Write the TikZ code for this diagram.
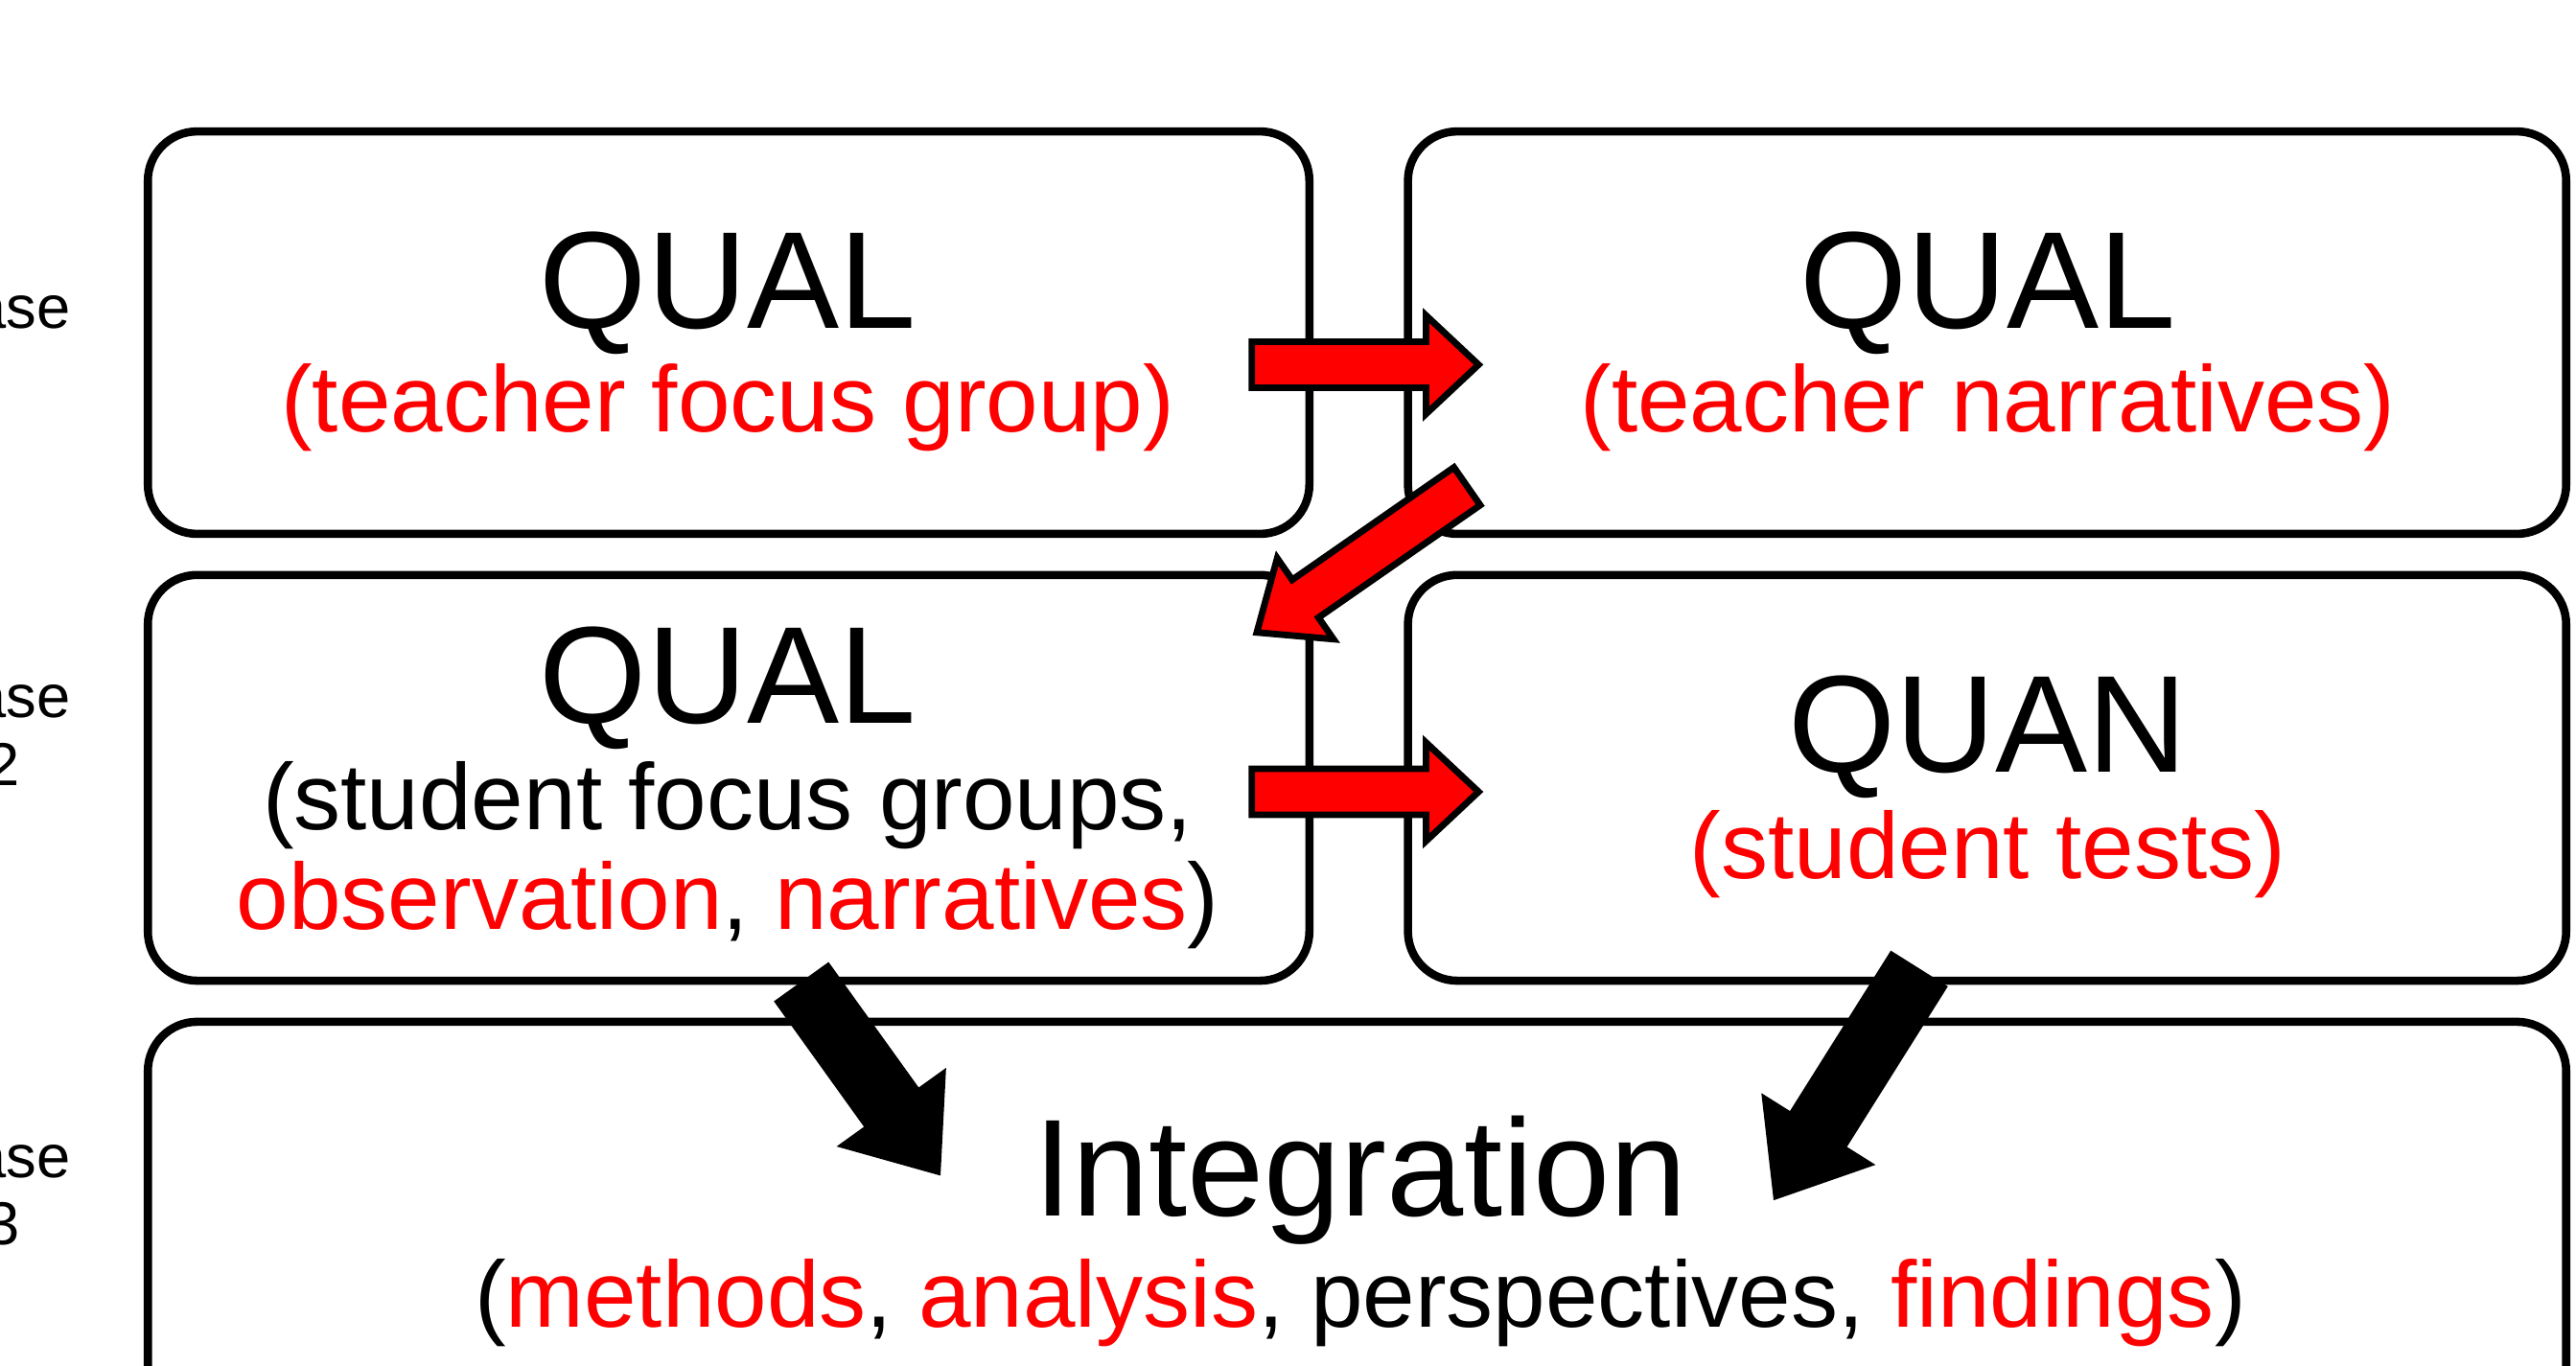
\documentclass[tikz,border=0pt]{standalone}
\usepackage{fontspec}
\setmainfont{Liberation Sans}
\usetikzlibrary{calc}
\newcommand\blockarr[6]{%
 \coordinate (hb) at ($(#2)!#5!(#1)$);
 \filldraw[#6] ($(#1)!#3!90:(#2)$) -- ($(hb)!#3!-90:(#1)$) -- ($(hb)!#4!-90:(#1)$) -- (#2) -- ($(hb)!#4!90:(#1)$) -- ($(hb)!#3!90:(#1)$) -- ($(#1)!#3!-90:(#2)$) -- cycle;}
\newlength\px \setlength\px{0.017136cm}
\tikzset{
 box/.style={draw=black, line width=5\px, rounded corners=30\px},
 big/.style={anchor=base, font=\fontsize{41}{48}\selectfont},
 sub/.style={anchor=base, font=\fontsize{27.9}{33}\selectfont},
 ph/.style={anchor=base east, font=\fontsize{18}{21}\selectfont},
 phn/.style={anchor=base, font=\fontsize{18}{21}\selectfont},
 redarr/.style={fill=red, draw=black, line width=4\px, line join=miter},
 blkarr/.style={fill=black, draw=black, line width=1\px},
}
\begin{document}
\begin{tikzpicture}[x=0.017136cm,y=-0.017136cm]
\clip (0,0) rectangle (1568,831);
\useasboundingbox (0,0) rectangle (1568,831);
\fill[white] (0,0) rectangle (1568,831);
% boxes
\draw[box] (90,80) rectangle (797,325);
\draw[box] (857,80) rectangle (1562,325);
\draw[box] (90,350) rectangle (797,597);
\draw[box] (857,350) rectangle (1562,597);
\draw[box] (90,622) rectangle (1562,900);
\coordinate (A) at (443,200); \coordinate (B) at (1210,200);
\coordinate (C) at (443,440); \coordinate (D) at (1210,470);
\coordinate (E) at (828,740);
% texts
\node[big] (tA) at (A) {QUAL};
\node[sub,text=red] (sA) at (443,263) {(teacher focus group)};
\node[big] (tB) at (B) {QUAL};
\node[sub,text=red] (sB) at (1210,263) {(teacher narratives)};
\node[big] (tC) at (C) {QUAL};
\node[sub] (sC1) at (443,505) {(student focus groups,};
\node[sub] (sC2) at (443,566) {\textcolor{red}{observation}, \textcolor{red}{narratives})};
\node[big] (tD) at (D) {QUAN};
\node[sub,text=red] (sD) at (1210,535) {(student tests)};
\node[big] (tE) at (E) {Integration};
\node[sub] (sE) at (828,808) {(\textcolor{red}{methods}, \textcolor{red}{analysis}, perspectives, \textcolor{red}{findings})};
% phase labels
\node[ph] (p1) at (50,200) {Phase};
\node[ph] (p2) at (50,437) {Phase};
\node[phn] (p2n) at (2,478) {2};
\node[ph] (p3) at (50,717) {Phase};
\node[phn] (p3n) at (2,758) {3};
% arrows
\coordinate (a1s) at (762,222); \coordinate (a1e) at (900,222);
\coordinate (a2s) at (893,296); \coordinate (a2e) at (765,385);
\coordinate (a3s) at (762,482); \coordinate (a3e) at (900,482);
\coordinate (a4s) at (488,598); \coordinate (a4e) at (572,715);
\coordinate (a5s) at (1168,590); \coordinate (a5e) at (1080,730);
\blockarr{a1s}{a1e}{14\px}{30\px}{32\px}{redarr}
\blockarr{a2s}{a2e}{14\px}{30\px}{36\px}{redarr}
\blockarr{a3s}{a3e}{14\px}{30\px}{32\px}{redarr}
\blockarr{a4s}{a4e}{20\px}{40\px}{50\px}{blkarr}
\blockarr{a5s}{a5e}{20\px}{40\px}{50\px}{blkarr}
\end{tikzpicture}
\end{document}
